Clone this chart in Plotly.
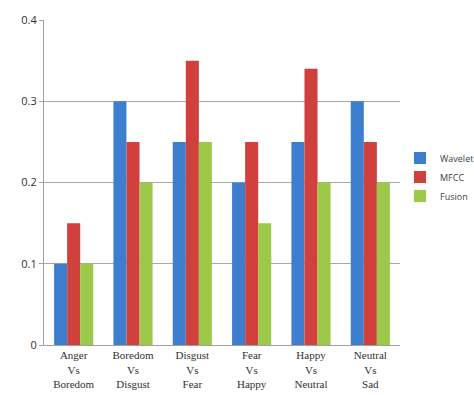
import plotly.graph_objects as go

categories = ["Anger<br>Vs<br>Boredom", "Boredom<br>Vs<br>Disgust", "Disgust<br>Vs<br>Fear",
              "Fear<br>Vs<br>Happy", "Happy<br>Vs<br>Neutral", "Neutral<br>Vs<br>Sad"]
wavelet = [0.10, 0.30, 0.25, 0.20, 0.25, 0.30]
mfcc = [0.15, 0.25, 0.35, 0.25, 0.34, 0.25]
fusion = [0.10, 0.20, 0.25, 0.15, 0.20, 0.20]
y_ticks = [0, 0.1, 0.2, 0.3, 0.4]
y_labels = ["0", "0.1", "0.2", "0.3", "0.4"]

fig = go.Figure()
fig.add_bar(x=categories, y=wavelet, name="Wavelet", marker_color="#3d7ecf", marker_line_width=0)
fig.add_bar(x=categories, y=mfcc, name="MFCC", marker_color="#d0403d", marker_line_width=0)
fig.add_bar(x=categories, y=fusion, name="Fusion", marker_color="#9dc94b", marker_line_width=0)

fig.update_layout(
    width=474, height=395,
    margin=dict(l=44, r=74, t=20, b=50, autoexpand=False),
    paper_bgcolor="white", plot_bgcolor="white",
    barmode="group", bargap=0.34, bargroupgap=0,
    showlegend=True,
    legend=dict(x=1.0, y=0.62, xanchor="left", yanchor="top",
                font=dict(family="Open Sans, DejaVu Sans", size=9, color="#404040"),
                tracegroupgap=0, itemwidth=30),
    xaxis=dict(showline=True, linecolor="#a0a0a0", linewidth=1, ticks="",
               tickfont=dict(family="Liberation Serif, Times New Roman", size=11, color="#303030"),
               tickangle=0),
    yaxis=dict(range=[0, 0.4], tickvals=y_ticks, ticktext=y_labels,
               showgrid=True, gridcolor="#a8a8a8", gridwidth=1,
               showline=True, linecolor="#a0a0a0", linewidth=1,
               ticks="outside", ticklen=4, tickcolor="#a0a0a0",
               tickfont=dict(family="Open Sans, DejaVu Sans", size=11, color="#303030"),
               zeroline=False),
)
fig.write_html("out.html")
